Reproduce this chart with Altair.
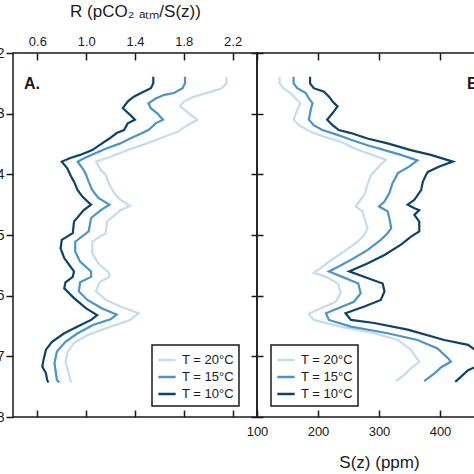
import altair as alt
import pandas as pd

SERIES = ["T = 20°C", "T = 15°C", "T = 10°C"]
COLORS = ["#c6dbef", "#4a94c6", "#0d4269"]
FONT = "Liberation Sans"
INK = "#1a1a1a"

# Panel A: R profiles (depth, R)
a20_depth = [2.39, 2.50, 2.58, 2.64, 2.72, 2.80, 2.88, 2.99, 3.10, 3.19, 3.30, 3.38, 3.49, 3.60, 3.71,
             3.79, 3.93, 4.01, 4.17, 4.31, 4.42, 4.52, 4.59, 4.78, 4.97, 5.11, 5.30, 5.47, 5.63, 5.69,
             5.78, 5.93, 6.07, 6.18, 6.29, 6.40, 6.51, 6.65, 6.78, 6.92, 7.09, 7.22, 7.39, 7.43]
a20_r = [2.15, 2.15, 2.11, 2.02, 1.88, 1.80, 1.77, 1.84, 1.91, 1.83, 1.75, 1.64, 1.50, 1.34, 1.20,
         1.08, 1.12, 1.16, 1.19, 1.23, 1.28, 1.36, 1.28, 1.17, 1.16, 1.05, 1.05, 1.10, 1.19, 1.19,
         1.11, 1.08, 1.16, 1.28, 1.43, 1.36, 1.20, 1.01, 0.90, 0.85, 0.83, 0.85, 0.87, 0.88]

a15_depth = [2.39, 2.50, 2.58, 2.66, 2.69, 2.75, 2.83, 2.91, 2.99, 3.10, 3.16, 3.27, 3.32, 3.41, 3.49,
             3.57, 3.65, 3.72, 3.79, 3.93, 4.01, 4.12, 4.26, 4.39, 4.50, 4.59, 4.72, 4.94, 5.11, 5.27,
             5.44, 5.60, 5.69, 5.78, 5.93, 6.07, 6.21, 6.31, 6.39, 6.48, 6.62, 6.76, 6.92, 7.11, 7.25,
             7.39, 7.43]
a15_r = [1.81, 1.81, 1.79, 1.72, 1.64, 1.57, 1.51, 1.53, 1.58, 1.63, 1.57, 1.51, 1.46, 1.36, 1.28,
         1.17, 1.08, 1.00, 0.93, 0.98, 1.00, 1.02, 1.05, 1.10, 1.19, 1.12, 1.04, 1.02, 0.91, 0.91,
         0.95, 1.04, 1.04, 0.95, 0.94, 1.01, 1.13, 1.25, 1.20, 1.06, 0.93, 0.83, 0.76, 0.74, 0.75,
         0.76, 0.78]

a10_depth = [2.39, 2.50, 2.58, 2.66, 2.72, 2.80, 2.91, 3.02, 3.10, 3.16, 3.27, 3.32, 3.41, 3.49, 3.60,
             3.68, 3.73, 3.79, 3.90, 4.01, 4.12, 4.26, 4.37, 4.50, 4.59, 4.78, 4.97, 5.08, 5.22, 5.38,
             5.49, 5.60, 5.69, 5.78, 5.88, 6.04, 6.21, 6.32, 6.40, 6.51, 6.62, 6.76, 6.89, 7.06, 7.17,
             7.28, 7.39, 7.43]
a10_r = [1.55, 1.55, 1.53, 1.45, 1.39, 1.34, 1.30, 1.36, 1.40, 1.34, 1.31, 1.25, 1.19, 1.13, 1.05,
         0.95, 0.87, 0.80, 0.845, 0.87, 0.90, 0.93, 0.97, 1.04, 0.98, 0.90, 0.89, 0.80, 0.79, 0.82,
         0.86, 0.90, 0.89, 0.83, 0.82, 0.90, 1.00, 1.09, 1.04, 0.93, 0.82, 0.72, 0.67, 0.65, 0.64,
         0.67, 0.68, 0.69]

# Panel B: S(z) profiles (depth, ppm)
b20_depth = [2.39, 2.50, 2.58, 2.66, 2.83, 2.94, 3.10, 3.19, 3.30, 3.38, 3.46, 3.57, 3.65, 3.76, 3.87,
             4.01, 4.17, 4.34, 4.48, 4.53, 4.61, 4.72, 4.89, 5.00, 5.11, 5.27, 5.44, 5.55, 5.62, 5.69,
             5.80, 5.96, 6.10, 6.21, 6.30, 6.40, 6.51, 6.62, 6.73, 6.89, 7.09, 7.20, 7.31, 7.41]
b20_s = [137, 137, 143, 155, 171, 166, 160, 169, 188, 210, 237, 259, 281, 311, 300,
         287, 281, 276, 265, 262, 273, 276, 281, 276, 265, 243, 218, 204, 193, 213,
         233, 237, 229, 204, 185, 193, 237, 292, 331, 352, 366, 352, 341, 328]

b15_depth = [2.39, 2.50, 2.58, 2.66, 2.75, 2.83, 2.94, 3.10, 3.19, 3.27, 3.35, 3.43, 3.52, 3.60, 3.68,
             3.77, 3.87, 3.98, 4.15, 4.31, 4.45, 4.53, 4.61, 4.72, 4.89, 4.97, 5.08, 5.25, 5.41, 5.52,
             5.60, 5.69, 5.80, 5.96, 6.10, 6.21, 6.29, 6.40, 6.51, 6.62, 6.73, 6.87, 7.03, 7.09, 7.18,
             7.28, 7.41]
b15_s = [160, 160, 166, 180, 185, 191, 188, 185, 193, 207, 232, 254, 281, 309, 336,
         363, 350, 331, 322, 317, 309, 300, 314, 317, 320, 314, 303, 281, 254, 234,
         218, 240, 266, 270, 259, 232, 213, 218, 254, 314, 363, 396, 413, 418, 402,
         391, 374]

b10_depth = [2.39, 2.50, 2.58, 2.64, 2.72, 2.80, 2.88, 2.99, 3.10, 3.19, 3.27, 3.32, 3.41, 3.49, 3.54,
             3.60, 3.68, 3.79, 3.87, 3.96, 4.01, 4.12, 4.26, 4.42, 4.50, 4.56, 4.59, 4.67, 4.78, 4.94,
             5.03, 5.16, 5.33, 5.47, 5.60, 5.71, 5.80, 5.93, 6.07, 6.18, 6.29, 6.40, 6.45, 6.56, 6.73,
             6.81, 6.89, 6.98, 7.08, 7.18, 7.23, 7.33, 7.42]
b10_s = [187, 187, 193, 210, 218, 224, 232, 224, 215, 224, 234, 254, 281, 314, 331,
         352, 385, 421, 399, 380, 377, 372, 369, 358, 347, 358, 366, 358, 366, 366,
         352, 336, 309, 281, 251, 281, 306, 309, 303, 276, 245, 254, 292, 347, 407,
         446, 457, 472, 476, 457, 446, 435, 425]

DEPTH_TICKS = [2, 3, 4, 5, 6, 7, 8]
R_TICKS = [0.6, 1.0, 1.4, 1.8, 2.2]
S_TICKS = [100, 200, 300, 400, 500]

PANEL_W = 244
PANEL_H = 364
TICK = 7


def profile(depths, values, label):
    return pd.DataFrame({"depth": depths, "value": values, "series": label,
                         "idx": list(range(len(depths)))})


data_a = pd.concat([profile(a20_depth, a20_r, SERIES[0]),
                    profile(a15_depth, a15_r, SERIES[1]),
                    profile(a10_depth, a10_r, SERIES[2])], ignore_index=True)
data_b = pd.concat([profile(b20_depth, b20_s, SERIES[0]),
                    profile(b15_depth, b15_s, SERIES[1]),
                    profile(b10_depth, b10_s, SERIES[2])], ignore_index=True)

y_scale = alt.Scale(domain=[2, 8], reverse=True, nice=False, zero=False)


def legend(x, y):
    return alt.Legend(orient="none", legendX=x, legendY=y, title=None,
                      symbolType="stroke", symbolStrokeWidth=2.5, symbolSize=300,
                      labelFontSize=13, labelFont=FONT, labelColor=INK, labelOffset=5,
                      rowPadding=0, padding=5, strokeColor=INK)


def inward(orient, values, **kw):
    # ticks drawn inside the frame: shift the axis line in and let ticks reach the border
    return alt.Axis(orient=orient, values=values, domain=False, offset=-TICK,
                    tickSize=TICK, grid=False, labelFlush=False, **kw)


def side(orient, size, **kw):
    return alt.Axis(orient=orient, values=DEPTH_TICKS, domain=False, tickSize=size,
                    title=None, grid=False, labelFlush=False, **kw)


def color_enc(x, y):
    return alt.Color("series:N", scale=alt.Scale(domain=SERIES, range=COLORS), legend=legend(x, y))


# ---- Panel A ----
xa_scale = alt.Scale(domain=[0.4, 2.4], nice=False, zero=False)
lines_a = alt.Chart(data_a).mark_line(strokeWidth=2.2).encode(
    x=alt.X("value:Q", scale=xa_scale,
            axis=inward("top", R_TICKS, format=".1f", labelPadding=5,
                        title="R (pCO₂ ₐₜₘ/S(z))", titlePadding=15)),
    y=alt.Y("depth:Q", scale=y_scale,
            axis=side("left", TICK, labelPadding=2, labelFontSize=14)),
    color=color_enc(139, 292),
    order=alt.Order("idx:Q"),
)
ghost_a = alt.Chart(data_a).mark_line(opacity=0).encode(
    x=alt.X("value:Q", scale=xa_scale, axis=inward("bottom", R_TICKS, labels=False, title=None)),
    y=alt.Y("depth:Q", scale=y_scale, axis=side("right", TICK - 1, labels=False)),
    detail="series:N",
    order=alt.Order("idx:Q"),
)
tag_a = alt.Chart(pd.DataFrame({"t": ["A."]})).mark_text(
    font=FONT, fontSize=16, fontWeight="bold", align="left", baseline="middle", color=INK
).encode(text="t:N", x=alt.value(11), y=alt.value(31))

panel_a = alt.layer(lines_a, ghost_a, tag_a).resolve_axis(
    x="independent", y="independent").properties(width=PANEL_W, height=PANEL_H)

# ---- Panel B ----
xb_scale = alt.Scale(domain=[100, 500], nice=False, zero=False)
lines_b = alt.Chart(data_b).mark_line(strokeWidth=2.2).encode(
    x=alt.X("value:Q", scale=xb_scale,
            axis=inward("bottom", S_TICKS, format="d", labelPadding=8,
                        title="S(z) (ppm)", titlePadding=16)),
    y=alt.Y("depth:Q", scale=y_scale, axis=side("left", TICK - 1, labels=False)),
    color=color_enc(14, 292),
    order=alt.Order("idx:Q"),
)
ghost_b = alt.Chart(data_b).mark_line(opacity=0).encode(
    x=alt.X("value:Q", scale=xb_scale, axis=inward("top", S_TICKS, labels=False, title=None)),
    y=alt.Y("depth:Q", scale=y_scale, axis=side("right", TICK, labels=False)),
    detail="series:N",
    order=alt.Order("idx:Q"),
)
tag_b = alt.Chart(pd.DataFrame({"t": ["B."]})).mark_text(
    font=FONT, fontSize=16, fontWeight="bold", align="left", baseline="middle", color=INK
).encode(text="t:N", x=alt.value(210), y=alt.value(31))

panel_b = alt.layer(lines_b, ghost_b, tag_b).resolve_axis(
    x="independent", y="independent").properties(width=PANEL_W, height=PANEL_H)

chart = alt.hconcat(panel_a, panel_b, spacing=0, bounds="flush").resolve_scale(
    color="independent"
).properties(
    autosize=alt.AutoSizeParams(type="none"),
    padding={"left": 13, "top": 53, "right": 461, "bottom": 421},
    background="white",
).configure_view(
    stroke=INK, strokeWidth=1.5
).configure_axis(
    labelFont=FONT, titleFont=FONT, labelFontSize=13, titleFontSize=17,
    titleFontWeight="normal", labelColor=INK, titleColor=INK,
    tickColor=INK, tickWidth=1.5,
).configure_legend(
    strokeWidth=1.5
)

chart.save("out.html", embed_options={"renderer": "svg", "actions": False})
